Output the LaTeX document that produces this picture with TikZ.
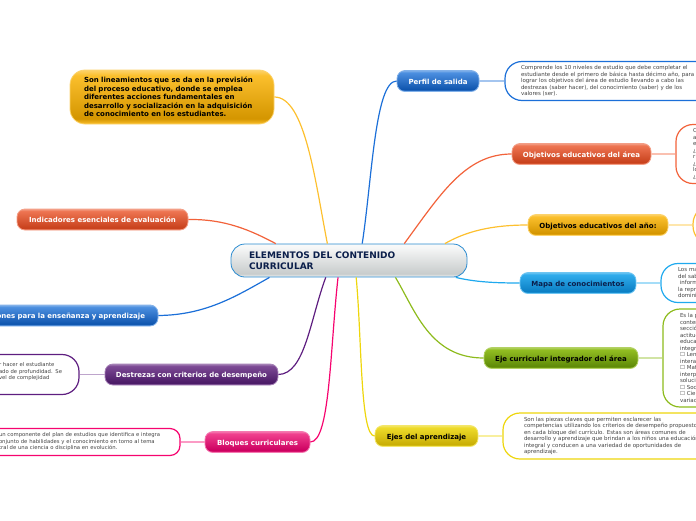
\documentclass[tikz,border=0pt]{standalone}
\usepackage{fontspec}
\setmainfont{DejaVu Sans}
\usepackage{xcolor}
\usetikzlibrary{positioning}

% Colours of the branches: light top, dark bottom, edge
\definecolor{BlueTop}{HTML}{4C8FE0}\definecolor{BlueLow}{HTML}{0F55AE}\definecolor{BlueLine}{HTML}{1B6FD8}
\definecolor{RedTop}{HTML}{EE7552}\definecolor{RedLow}{HTML}{C8411C}\definecolor{RedLine}{HTML}{F2623A}
\definecolor{AmberTop}{HTML}{FBC02D}\definecolor{AmberLow}{HTML}{D49500}\definecolor{AmberLine}{HTML}{FDC02F}
\definecolor{CyanTop}{HTML}{30ACEC}\definecolor{CyanLow}{HTML}{0B7FC4}\definecolor{CyanLine}{HTML}{1FA9EE}
\definecolor{GreenTop}{HTML}{92BE22}\definecolor{GreenLow}{HTML}{5F8A08}\definecolor{GreenLine}{HTML}{8DBB1C}
\definecolor{GoldTop}{HTML}{EEDB2A}\definecolor{GoldLow}{HTML}{C9AE05}\definecolor{GoldLine}{HTML}{EED60C}
\definecolor{PinkTop}{HTML}{F0408E}\definecolor{PinkLow}{HTML}{CC0060}\definecolor{PinkLine}{HTML}{F6046F}
\definecolor{PurpleTop}{HTML}{7D4A95}\definecolor{PurpleLow}{HTML}{4A1A66}\definecolor{PurpleLine}{HTML}{5E1E80}
\definecolor{SteelTop}{HTML}{F6F7F7}\definecolor{SteelLow}{HTML}{C8CCCC}\definecolor{SteelLine}{HTML}{2A8BD0}
\definecolor{NavyText}{HTML}{0B1F4B}
\definecolor{GreyText}{HTML}{444444}

\newcommand{\MakeShade}[1]{%
  \pgfdeclareverticalshading{#1Shade}{100bp}{%
    color(0bp)=(#1Top); color(25bp)=(#1Top); color(30bp)=(#1Low);
    color(70bp)=(#1Top); color(75bp)=(#1Top!70!white); color(100bp)=(#1Top!70!white)}}
\MakeShade{Blue}\MakeShade{Red}\MakeShade{Amber}\MakeShade{Cyan}\MakeShade{Green}
\MakeShade{Gold}\MakeShade{Pink}\MakeShade{Purple}\MakeShade{Steel}

\begin{document}
\begin{tikzpicture}[x=1pt, y=-1pt,
	TopicNode/.style={rounded corners=8pt, draw=#1Top!70!white, shading=#1Shade, thick, minimum height=21pt,
		inner xsep=0pt, inner ysep=0pt, text height=6pt, text depth=0pt, font=\fontsize{7}{8}\selectfont\bfseries},
	DetailNode/.style={rounded corners=17pt, draw=#1Line, fill=white, line width=1.2pt, inner ysep=0pt,
		text=GreyText, align=left, font=\fontsize{5.5}{6.5}\selectfont},
	Branch/.style={#1Line, line width=1.2pt},
	Twig/.style={#1Line!40!white, line width=1.6pt}]

	\useasboundingbox (0,0) rectangle (696,520);

	% Nodes
	\node[draw=SteelLine, shading=SteelShade, rounded corners=14pt, thick, minimum width=236pt, minimum height=33pt,
		inner xsep=18pt, inner ysep=0pt, text width=200pt, text=NavyText, align=left,
		font=\fontsize{9}{11}\selectfont\bfseries] (Central) at (349,260.5)
		{ELEMENTOS DEL CONTENIDO\\CURRICULAR};

	\node[rounded corners=15pt, draw=AmberTop!70!white, shading=AmberShade, thick, minimum width=204pt, minimum height=54pt,
		inner xsep=14pt, inner ysep=0pt, text width=176pt, align=left,
		font=\fontsize{7}{8.5}\selectfont\bfseries] (Lineamientos) at (172,97)
		{Son lineamientos que se da en la previsión\\del proceso educativo, donde se emplea\\diferentes acciones fundamentales en\\desarrollo y socialización en la adquisición\\de conocimiento en los estudiantes.};

	\node[TopicNode=Blue, text=white, minimum width=82pt] (Perfil) at (438,81) {Perfil de salida};
	\node[TopicNode=Red, text=white, minimum width=139pt] (ObjArea) at (581.5,154) {Objetivos educativos del área};
	\node[TopicNode=Amber, minimum width=140pt] (ObjAnio) at (598,225) {Objetivos educativos del año:};
	\node[TopicNode=Cyan, text=NavyText, minimum width=116pt] (Mapa) at (578,283) {Mapa de conocimientos};
	\node[TopicNode=Green, minimum width=154pt] (EjeCurricular) at (561,358) {Eje curricular integrador del área};
	\node[TopicNode=Gold, minimum width=103pt] (EjesAprendizaje) at (426.5,436) {Ejes del aprendizaje};
	\node[TopicNode=Pink, text=white, minimum width=105pt] (Bloques) at (257.5,442) {Bloques curriculares};
	\node[TopicNode=Purple, text=white, minimum width=173pt] (Destrezas) at (191.5,374.5) {Destrezas con criterios de desempeño};
	\node[TopicNode=Blue, text=white, minimum width=260pt, text width=234pt, align=right] (Orientaciones) at (28,315.5) {ones para la enseñanza y aprendizaje};
	\node[TopicNode=Red, text=white, minimum width=171pt] (Indicadores) at (102.5,219.5) {Indicadores esenciales de evaluación};

	\node[DetailNode=Blue, minimum height=39pt, inner xsep=16pt, text width=190pt, right=25pt of Perfil] (PerfilText)
		{Comprende los 10 niveles de estudio que debe completar el\\estudiante desde el primero de básica hasta décimo año, para\\lograr los objetivos del área de estudio llevando a cabo las\\destrezas (saber hacer), del conocimiento (saber) y de los\\valores (ser).};
	\node[DetailNode=Red, minimum height=59pt, inner xsep=17pt, text width=30pt, right=24pt of ObjArea] (ObjAreaText)
		{O\\al\\e\\¿I\\r\\¿I\\lo\\¿I};
	\node[DetailNode=Amber, rounded corners=19pt, minimum height=40pt, text width=30pt, right=24pt of ObjAnio] (ObjAnioText) {};
	\node[DetailNode=Cyan, minimum height=39pt, inner xsep=17pt, text width=30pt, right=24pt of Mapa] (MapaText)
		{Los ma\\del sab\\\ inform\\la repr\\domini};
	\node[DetailNode=Green, minimum height=98pt, inner xsep=17pt, text width=30pt, right=24pt of EjeCurricular] (EjeText)
		{Es la p\\conten\\secció\\actitud\\educat\\integra\\☐ Len\\interac\\☐ Mat\\interpr\\solucio\\☐ Soc\\☐ Cien\\variaci};
	\node[DetailNode=Gold, minimum height=46pt, inner xsep=21pt, text width=180pt, right=24pt of EjesAprendizaje] (EjesText)
		{Son las piezas claves que permiten esclarecer las\\competencias utilizando los criterios de desempeño propuestos\\en cada bloque del currículo. Estas son áreas comunes de\\desarrollo y aprendizaje que brindan a los niños una educación\\integral y conducen a una variedad de oportunidades de\\aprendizaje.};
	\node[DetailNode=Purple, minimum height=40pt, inner xsep=0pt, text width=120pt, font=\fontsize{5.3}{6.5}\selectfont, left=25pt of Destrezas] (DestrezasText)
		{\hspace*{40pt}r hacer el estudiante\\\hspace*{40pt}ado de profundidad. Se\\\hspace*{40pt}vel de complejidad\\\ };
	\node[DetailNode=Pink, rounded corners=10pt, minimum height=27pt, inner xsep=0pt, text width=221pt, font=\fontsize{5.3}{6.5}\selectfont, left=24pt of Bloques] (BloquesText)
		{\hspace*{40pt}un componente del plan de estudios que identifica e integra\\\hspace*{40pt}onjunto de habilidades y el conocimiento en torno al tema\\\hspace*{40pt}tral de una ciencia o disciplina en evolución.};

	% Lines
	\draw[Branch=Amber] (Lineamientos.east) .. controls (305,97) and (315,180) .. (Central.142);
	\draw[Branch=Blue] (Perfil.west) .. controls (375,81) and (372,180) .. (Central.52);
	\draw[Branch=Red] (ObjArea.west) .. controls (465,154) and (440,195) .. (Central.17.3);
	\draw[Branch=Amber] (ObjAnio.west) .. controls (490,225) and (465,232) .. (Central.10.5);
	\draw[Branch=Cyan] (Mapa.west) .. controls (495,283) and (475,282) .. (Central.-9);
	\draw[Branch=Green] (EjeCurricular.west) .. controls (430,358) and (415,310) .. (Central.-20.5);
	\draw[Branch=Gold] (EjesAprendizaje.west) .. controls (360,436) and (362,340) .. (Central.-67);
	\draw[Branch=Pink] (Bloques.east) .. controls (330,442) and (330,350) .. (Central.-123.7);
	\draw[Branch=Purple] (Destrezas.east) .. controls (305,374) and (310,320) .. (Central.-144.3);
	\draw[Branch=Blue] (Orientaciones.east) .. controls (205,315) and (235,297) .. (Central.-168.3);
	\draw[Branch=Red] (Indicadores.east) .. controls (225,219) and (250,230) .. (Central.167.8);

	\draw[Twig=Blue] (Perfil) to (PerfilText);
	\draw[Twig=Red] (ObjArea) to (ObjAreaText);
	\draw[Twig=Amber] (ObjAnio) to (ObjAnioText);
	\draw[Twig=Cyan] (Mapa) to (MapaText);
	\draw[Twig=Green] (EjeCurricular) to (EjeText);
	\draw[Twig=Gold] (EjesAprendizaje) to (EjesText);
	\draw[Twig=Purple] (Destrezas) to (DestrezasText);
	\draw[Twig=Pink] (Bloques) to (BloquesText);
\end{tikzpicture}
\end{document}
